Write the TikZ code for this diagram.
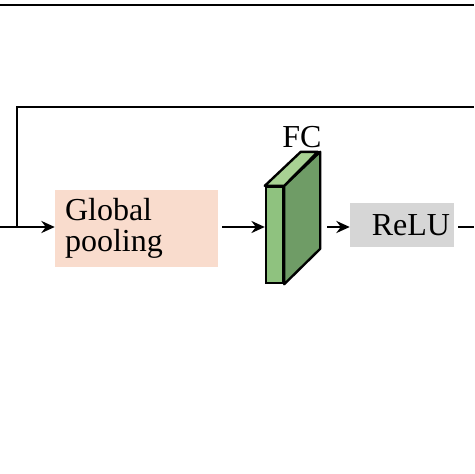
\documentclass[tikz,border=0pt]{standalone}
\usepackage{fontspec}
\setmainfont{Liberation Serif}
\usetikzlibrary{arrows.meta, positioning, calc}

\definecolor{poolpeach}{HTML}{F9DCCD}
\definecolor{fcfront}{HTML}{8FC27F}
\definecolor{fcside}{HTML}{6F9C66}
\definecolor{fctop}{HTML}{A8D293}
\definecolor{relugray}{HTML}{D6D6D6}

\begin{document}
\begin{tikzpicture}[
            x=0.75pt, y=-0.75pt,
            block/.style={rectangle, inner ysep=0pt, font=\fontsize{24}{23}\selectfont},
            wire/.style={line width=1.8pt},
            arrow/.style={wire, -{Stealth[length=10pt, width=9pt]}}
        ]
        \useasboundingbox (0,0) rectangle (474,474);

        \node[block, fill=poolpeach, minimum width=122.25pt, minimum height=57.75pt,
              inner xsep=7.5pt, text width=107.25pt, align=left] (pool) at (136.5,228.5) {Global\\pooling};

        \node[draw, fill=fcfront, line width=1.8pt, inner sep=0pt,
              minimum width=12.75pt, minimum height=72pt] (fc) at (274.5,235) {};
        \draw[line width=1.8pt, line join=round, fill=fcside] (fc.north east) -- ++(36,-34) -- ++(0,97) -- (fc.south east) -- cycle;
        \draw[line width=1.8pt, line join=round, fill=fctop] (fc.north west) -- ++(36,-34) -- ++(17,0) -- (fc.north east) -- cycle;
        \node[font=\fontsize{24}{29}\selectfont] (fclabel) at (302,137) {FC};

        \node[block, fill=relugray, minimum height=33pt, inner xsep=3pt,
              text width=72pt, align=right] (relu) at (402,225) {ReLU};

        \coordinate (in) at (0,227);
        \coordinate (split) at (17,227);
        \coordinate (out) at (474,227);
        \coordinate (skipend) at (474,107);

        % top rule
        \draw[wire] (0,5) -- (474,5);

        % main path
        \draw[arrow] (in) -- (pool.west |- in);
        \draw[wire] (split) |- (skipend);
        \draw[arrow] ([xshift=3pt]pool.east |- in) -- (fc.west |- in);
        \draw[arrow] (327,227) -- (relu.west |- in);
        \draw[wire] ([xshift=3pt]relu.east |- out) -- (out);

    \end{tikzpicture}
\end{document}
